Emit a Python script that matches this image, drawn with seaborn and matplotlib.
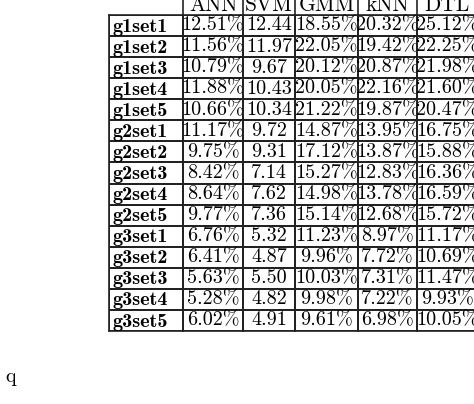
import numpy as np
import pandas as pd
import matplotlib
matplotlib.use("Agg")
import matplotlib.pyplot as plt
import seaborn as sns
from matplotlib.colors import ListedColormap
from matplotlib.lines import Line2D

# --- data ---
rows = ["g1set1", "g1set2", "g1set3", "g1set4", "g1set5",
        "g2set1", "g2set2", "g2set3", "g2set4", "g2set5",
        "g3set1", "g3set2", "g3set3", "g3set4", "g3set5"]
ann = ["12.51%", "11.56%", "10.79%", "11.88%", "10.66%", "11.17%", "9.75%", "8.42%",
       "8.64%", "9.77%", "6.76%", "6.41%", "5.63%", "5.28%", "6.02%"]
svm = ["12.44", "11.97", "9.67", "10.43", "10.34", "9.72", "9.31", "7.14",
       "7.62", "7.36", "5.32", "4.87", "5.50", "4.82", "4.91"]
gmm = ["18.55%", "22.05%", "20.12%", "20.05%", "21.22%", "14.87%", "17.12%", "15.27%",
       "14.98%", "15.14%", "11.23%", "9.96%", "10.03%", "9.98%", "9.61%"]
knn = ["20.32%", "19.42%", "20.87%", "22.16%", "19.87%", "13.95%", "13.87%", "12.83%",
       "13.78%", "12.68%", "8.97%", "7.72%", "7.31%", "7.22%", "6.98%"]
dtl = ["25.12%", "22.25%", "21.98%", "21.60%", "20.47%", "16.75%", "15.88%", "16.36%",
       "16.59%", "15.72%", "11.17%", "10.69%", "11.47%", "9.93%", "10.05%"]
headers = ["", "ANN", "SVM", "GMM", "kNN", "DTL"]
columns = [rows, ann, svm, gmm, knn, dtl]

W, H = 474, 404
FS = 14.5
fig = plt.figure(figsize=(W / 100, H / 100), dpi=100)

# column edges in pixels
edges = [109, 183, 243, 295, 358, 417, 478]
top_px, bot_px = 15, 331
white = ListedColormap(["white"])

for i, col in enumerate(columns):
    x0, x1 = edges[i], edges[i + 1]
    ax = fig.add_axes([x0 / W, 1 - bot_px / H, (x1 - x0) / W, (bot_px - top_px) / H])
    vals = pd.DataFrame(np.zeros((len(col), 1)))
    if i == 0:
        sns.heatmap(vals, ax=ax, cmap=white, cbar=False,
                    linewidths=1.2, linecolor="#222222")
        for r, name in enumerate(col):
            ax.text(0.05, r + 0.55, name, ha="left", va="center",
                    family="cmb10", size=FS)
    else:
        labels = np.array(col).reshape(-1, 1)
        sns.heatmap(vals, ax=ax, cmap=white, cbar=False, annot=labels, fmt="",
                    linewidths=1.2, linecolor="#222222",
                    annot_kws={"family": "cmr10", "size": FS, "color": "black"})
    ax.set_xticks([])
    ax.set_yticks([])
    for s in ax.spines.values():
        s.set_visible(True)
        s.set_color("#222222")
        s.set_linewidth(1.2)
    if headers[i]:
        fig.text((x0 + x1) / 2 / W, 1 - 5 / H, headers[i], ha="center", va="center",
                 family="cmr10", size=FS + 1)

# vertical rules running up through the header row
for x in edges[1:]:
    fig.add_artist(Line2D([x / W, x / W], [1 - top_px / H, 1.0], color="#222222", lw=1.2))

fig.text(5 / W, 1 - 377 / H, "q", family="cmr10", size=FS, va="center")

fig.savefig("out.png", dpi=100)
